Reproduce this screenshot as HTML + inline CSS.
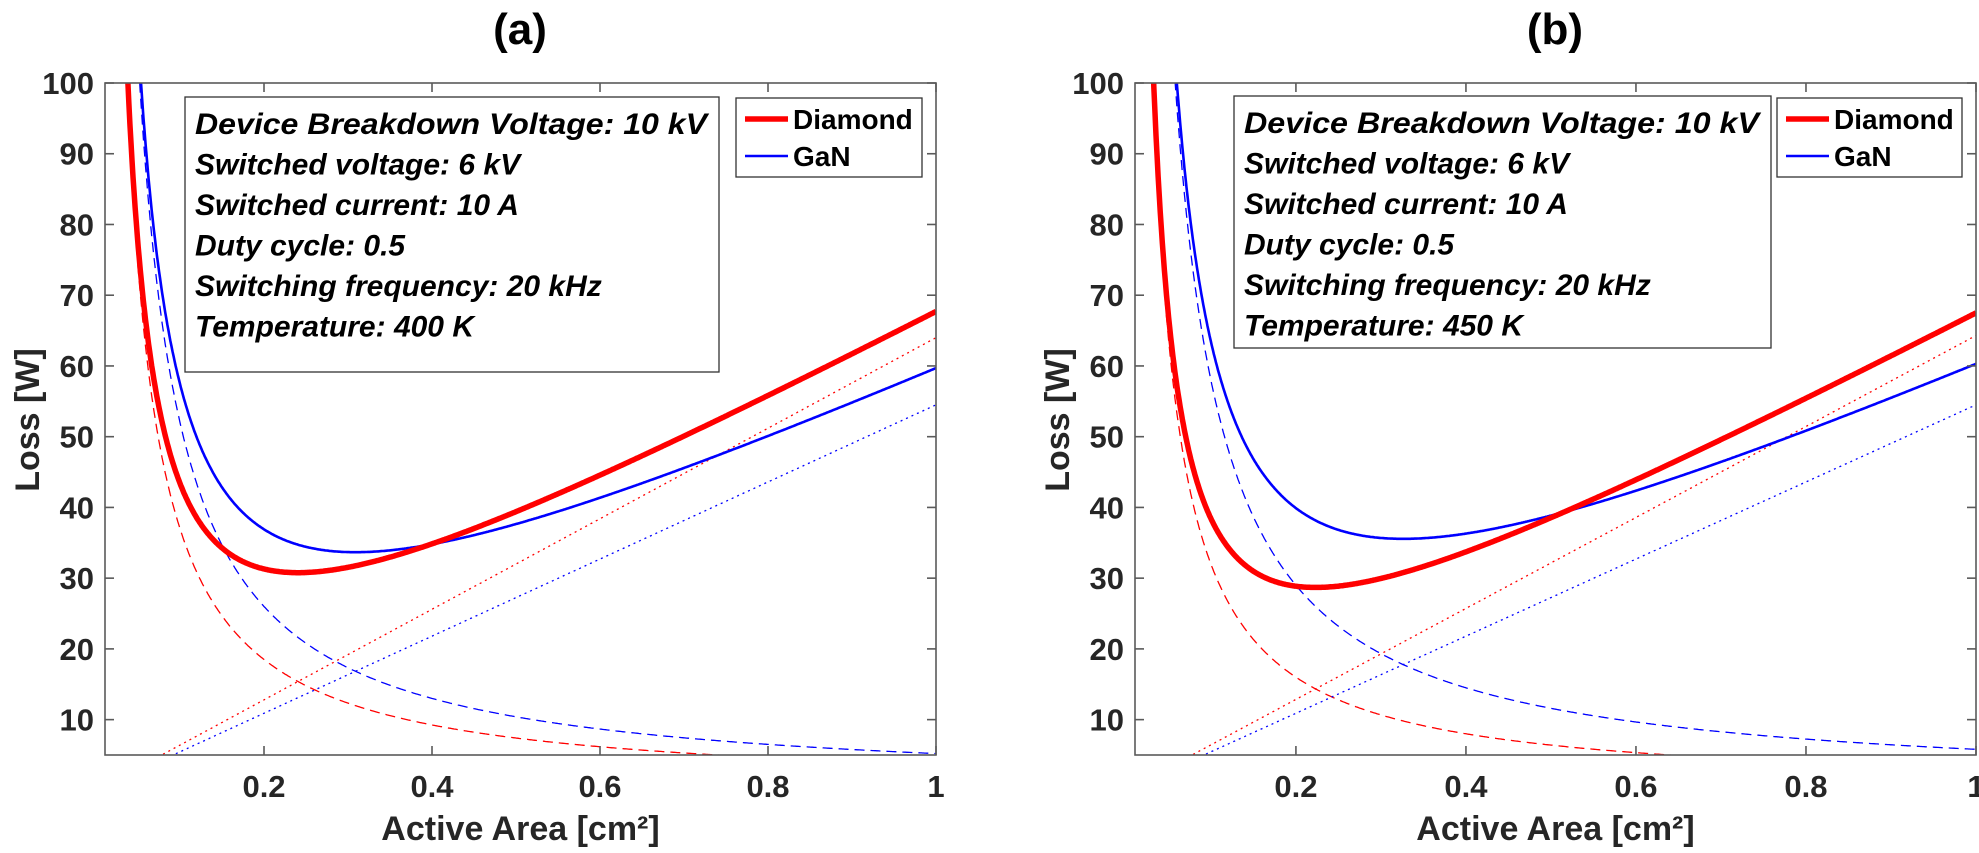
<!DOCTYPE html>
<html><head><meta charset="utf-8"><style>
html,body{margin:0;padding:0;background:#fff;}
svg{display:block;}
text{font-family:"Liberation Sans",Arial,sans-serif;}
</style></head><body>
<svg id="s" width="1979" height="853" viewBox="0 0 1979 853" xmlns="http://www.w3.org/2000/svg"></svg>
<script>
const NS="http://www.w3.org/2000/svg";
const svg=document.getElementById('s');
function el(t,a,p){const e=document.createElementNS(NS,t);for(const k in a)e.setAttribute(k,a[k]);(p||svg).appendChild(e);return e;}
function txt(x,y,s,a){const e=el('text',Object.assign({x:x,y:y},a));e.textContent=s;return e;}
const panels=[
 {L:105,R:936,title:'(a)',tc:520,A1:3.7,B1:64,A2:5.2,B2:54.5,
  box:[185,97,719,372],lines:['Device Breakdown Voltage: 10 kV','Switched voltage: 6 kV','Switched current: 10 A','Duty cycle: 0.5','Switching frequency: 20 kHz','Temperature: 400 K'],tx:195,ty0:134,
  leg:[736,98,922,177]},
 {L:1135,R:1976,title:'(b)',tc:1555,A1:3.2,B1:64.3,A2:5.8,B2:54.5,
  box:[1234,96,1771,348],lines:['Device Breakdown Voltage: 10 kV','Switched voltage: 6 kV','Switched current: 10 A','Duty cycle: 0.5','Switching frequency: 20 kHz','Temperature: 450 K'],tx:1244,ty0:133,
  leg:[1777,98,1962,177]}
];
const T=83,B=755,YMIN=5,YMAX=100,XMIN=0.0107,XMAX=1;
panels.forEach((p,i)=>{
 const X=x=>p.L+(x-XMIN)/(XMAX-XMIN)*(p.R-p.L);
 const Y=y=>B-(y-YMIN)/(YMAX-YMIN)*(B-T);
 const cid='c'+i;
 const cp=el('clipPath',{id:cid});el('rect',{x:p.L,y:T,width:p.R-p.L,height:B-T},cp);
 const g=el('g',{'clip-path':'url(#'+cid+')'});
 function curve(f,st){let d='';for(let k=0;k<=800;k++){const x=XMIN+(XMAX-XMIN)*k/800;let y=f(x);if(y>200)y=200;d+=(k?'L':'M')+X(x).toFixed(1)+' '+Y(y).toFixed(1);}el('path',Object.assign({d:d,fill:'none'},st),g);}
 curve(x=>p.A1/x,{stroke:'#ff0000','stroke-width':1.3,'stroke-dasharray':'10,6'});
 curve(x=>p.A2/x,{stroke:'#0000ff','stroke-width':1.3,'stroke-dasharray':'10,6'});
 curve(x=>p.B1*x,{stroke:'#ff0000','stroke-width':1.3,'stroke-dasharray':'2,4'});
 curve(x=>p.B2*x,{stroke:'#0000ff','stroke-width':1.3,'stroke-dasharray':'2,4'});
 curve(x=>p.A2/x+p.B2*x,{stroke:'#0000ff','stroke-width':2.6});
 curve(x=>p.A1/x+p.B1*x,{stroke:'#ff0000','stroke-width':5.5});
 // axes box
 el('rect',{x:p.L,y:T,width:p.R-p.L,height:B-T,fill:'none',stroke:'#5a5a5a','stroke-width':1.6});
 for(let v=10;v<=100;v+=10){const y=Y(v);
  el('line',{x1:p.L,y1:y,x2:p.L+9,y2:y,stroke:'#5a5a5a','stroke-width':1.6});
  el('line',{x1:p.R,y1:y,x2:p.R-9,y2:y,stroke:'#5a5a5a','stroke-width':1.6});
  txt(p.L-11,y+11,String(v),{'text-anchor':'end','font-size':31,'font-weight':'bold',fill:'#262626'});}
 [0.2,0.4,0.6,0.8,1].forEach(v=>{const x=X(v);
  el('line',{x1:x,y1:B,x2:x,y2:B-9,stroke:'#5a5a5a','stroke-width':1.6});
  el('line',{x1:x,y1:T,x2:x,y2:T+9,stroke:'#5a5a5a','stroke-width':1.6});
  txt(x,797,String(v),{'text-anchor':'middle','font-size':31,'font-weight':'bold',fill:'#262626'});});
 txt((p.L+p.R)/2,840,'Active Area [cm²]',{'text-anchor':'middle','font-size':34,'font-weight':'bold',fill:'#262626'});
 const ylx=p.L-78;
 txt(0,0,'Loss [W]',{'text-anchor':'middle','font-size':34,'font-weight':'bold',fill:'#262626',transform:'translate('+(ylx+12)+',420) rotate(-90)'});
 txt(p.tc,44,p.title,{'text-anchor':'middle','font-size':44,'font-weight':'bold',fill:'#000'});
 // text box
 const b=p.box;
 el('rect',{x:b[0],y:b[1],width:b[2]-b[0],height:b[3]-b[1],fill:'#fff',stroke:'#333','stroke-width':1.3});
 p.lines.forEach((s,k)=>{const a={'font-size':30,'font-weight':'bold','font-style':'italic',fill:'#000'};
  if(k==0){a.textLength=b[2]-b[0]-22;a.lengthAdjust='spacingAndGlyphs';}
  txt(p.tx,p.ty0+k*40.5,s,a);});
 const l=p.leg;
 el('rect',{x:l[0],y:l[1],width:l[2]-l[0],height:l[3]-l[1],fill:'#fff',stroke:'#333','stroke-width':1.3});
 el('line',{x1:l[0]+9,y1:119,x2:l[0]+52,y2:119,stroke:'#ff0000','stroke-width':5.5});
 el('line',{x1:l[0]+9,y1:156,x2:l[0]+52,y2:156,stroke:'#0000ff','stroke-width':2.6});
 txt(l[0]+57,129,'Diamond',{'font-size':28,'font-weight':'bold',fill:'#000'});
 txt(l[0]+57,166,'GaN',{'font-size':28,'font-weight':'bold',fill:'#000'});
});
</script>
</body></html>
